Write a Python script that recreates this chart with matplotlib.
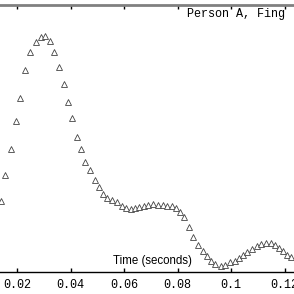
import numpy as np
import matplotlib
matplotlib.use("Agg")
import matplotlib.pyplot as plt

# time samples (s) and signal amplitude (arbitrary units)
t = [0.0140, 0.0155, 0.0178, 0.0196, 0.0211, 0.0230, 0.0249, 0.0271, 0.0290, 0.0305,
     0.0323, 0.0338, 0.0357, 0.0376, 0.0391, 0.0406, 0.0424, 0.0439, 0.0454, 0.0473,
     0.0492, 0.0507, 0.0521, 0.0536, 0.0555, 0.0574, 0.0592, 0.0607, 0.0626, 0.0641,
     0.0656, 0.0675, 0.0690, 0.0708, 0.0727, 0.0746, 0.0761, 0.0779, 0.0794, 0.0809,
     0.0824, 0.0843, 0.0858, 0.0877, 0.0895, 0.0910, 0.0925, 0.0940, 0.0963, 0.0978,
     0.0996, 0.1015, 0.1030, 0.1045, 0.1060, 0.1079, 0.1097, 0.1112, 0.1131, 0.1150,
     0.1164, 0.1179, 0.1194, 0.1209, 0.1224]
amp = [0.71, 0.97, 1.23, 1.51, 1.74, 2.02, 2.20, 2.30, 2.35, 2.36,
       2.31, 2.20, 2.05, 1.88, 1.70, 1.54, 1.35, 1.23, 1.10, 1.02,
       0.92, 0.85, 0.78, 0.74, 0.72, 0.70, 0.66, 0.64, 0.63, 0.64,
       0.65, 0.66, 0.67, 0.68, 0.67, 0.67, 0.66, 0.66, 0.64, 0.60,
       0.55, 0.45, 0.35, 0.27, 0.21, 0.16, 0.11, 0.08, 0.06, 0.07,
       0.10, 0.11, 0.14, 0.17, 0.20, 0.23, 0.26, 0.28, 0.29, 0.29,
       0.27, 0.24, 0.21, 0.17, 0.15]
xticks = [0.02, 0.04, 0.06, 0.08, 0.1, 0.12]
xticklabels = ["0.02", "0.04", "0.06", "0.08", "0.1", "0.12"]

fig = plt.figure(figsize=(2.94, 2.94), dpi=100)
ax = fig.add_axes([0, 0.0748, 1, 0.9082])

ax.plot(t, amp, linestyle="none", marker="^", markersize=4.5,
        markerfacecolor="white", markeredgecolor="#444444", markeredgewidth=0.6)

ax.set_xlim(0.01364, 0.12355)
ax.set_ylim(0, 2.67)
ax.set_yticks([])
ax.set_xticks(xticks)
ax.set_xticklabels(xticklabels, fontfamily="Liberation Mono", fontsize=8.5)
ax.tick_params(axis="x", direction="in", length=3, width=1, top=True,
               pad=5, colors="black")

for s in ("left", "right"):
    ax.spines[s].set_visible(False)
ax.spines["top"].set_color("#808080")
ax.spines["top"].set_linewidth(2)
ax.spines["bottom"].set_linewidth(1)

ax.text(0.52, 0.042, "Time (seconds)", transform=ax.transAxes, ha="center",
        va="center", fontsize=8.3, fontfamily="Liberation Sans")
fig.text(187 / 294, 1 - 14 / 294, "Person A, Fing", ha="left", va="center",
         fontsize=8.5, fontfamily="Liberation Mono")

fig.savefig("out.png", dpi=100)
